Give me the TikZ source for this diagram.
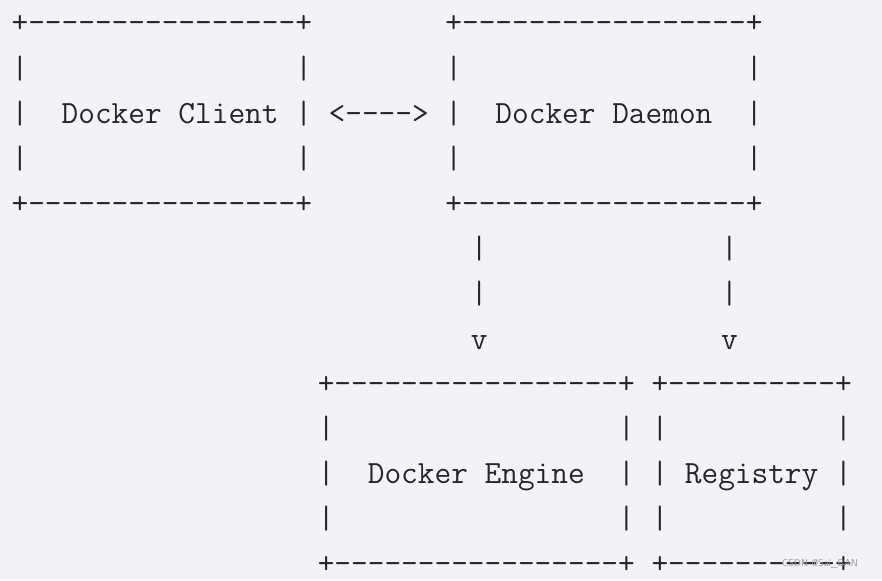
\documentclass[tikz,border=0pt]{standalone}
\begin{document}
\begin{tikzpicture}[x=1pt,y=1pt,
  row/.style={anchor=mid west,inner sep=0pt,outer sep=0pt,text=black!85,font=\ttfamily\fontsize{32.4}{34}\selectfont}]
\definecolor{bg}{HTML}{F3F2F6}
\fill[bg] (0,0) rectangle (882,580);
\useasboundingbox (0,0) rectangle (882,580);
\def\cw{17.01}
\def\xo{11.6}
\def\dy{8}
\node[row] (r1) at (\xo,580-22-\dy) {+----------------+~~~~~~~~+-----------------+};
\node[row] (r2) at (\xo,580-68-\dy) {|~~~~~~~~~~~~~~~~|~~~~~~~~|~~~~~~~~~~~~~~~~~|};
\node[row] (r3) at (\xo,580-113-\dy) {|~~Docker~Client~|~<---->~|~~Docker~Daemon~~|};
\node[row] (r4) at (\xo,580-158-\dy) {|~~~~~~~~~~~~~~~~|~~~~~~~~|~~~~~~~~~~~~~~~~~|};
\node[row] (r5) at (\xo,580-203-\dy) {+----------------+~~~~~~~~+-----------------+};
\node[row] (r6) at (\xo+27*\cw,580-248-\dy) {|~~~~~~~~~~~~~~|};
\node[row] (r7) at (\xo+27*\cw,580-293-\dy) {|~~~~~~~~~~~~~~|};
\node[row] (r8) at (\xo+27*\cw,580-339-\dy) {v~~~~~~~~~~~~~~v};
\node[row] (r9) at (\xo+18*\cw,580-383-\dy) {+-----------------+~+----------+};
\node[row] (r10) at (\xo+18*\cw,580-428-\dy) {|~~~~~~~~~~~~~~~~~|~|~~~~~~~~~~|};
\node[row] (r11) at (\xo+18*\cw,580-473-\dy) {|~~Docker~Engine~~|~|~Registry~|};
\node[row] (r12) at (\xo+18*\cw,580-518-\dy) {|~~~~~~~~~~~~~~~~~|~|~~~~~~~~~~|};
\node[row] (r13) at (\xo+18*\cw,580-563-\dy) {+-----------------+~+----------+};
\node[anchor=center,inner sep=0pt,text=black!40,font=\sffamily\fontsize{10}{12}\selectfont] (wm) at (820,16) {CSDN @Sai\_BAN};
\end{tikzpicture}
\end{document}
